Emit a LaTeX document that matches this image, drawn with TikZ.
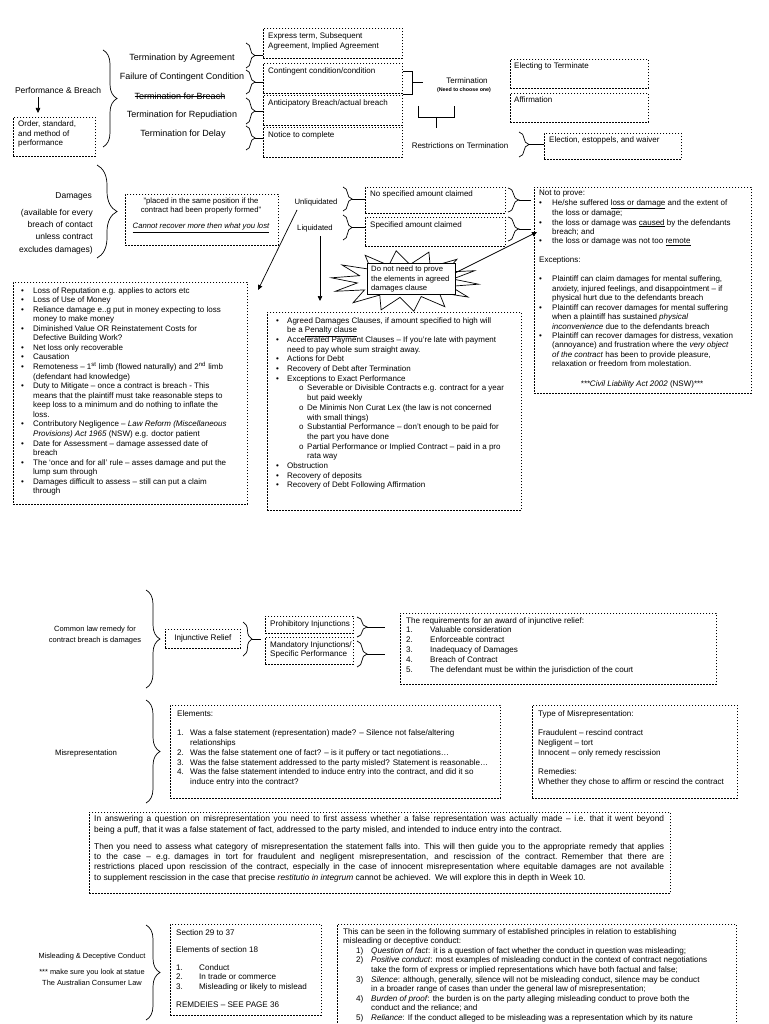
\documentclass[tikz,border=0pt]{standalone}
\usepackage{fontspec}
\setmainfont{Liberation Sans}
\usetikzlibrary{decorations.pathreplacing,arrows.meta}
\newcommand\fsz[2]{\fontsize{#1}{#2}\selectfont}
\newcommand\bb[1]{\makebox[#1][l]{\textbullet}}
\newcommand\hs[1]{\hspace*{#1}}
\newcommand\nm[2]{\makebox[#1][l]{#2}}
\newcommand\jl[1]{\hbox to 570pt{\spaceskip=0.278em plus 0.5em minus 0.06em #1}}
\newcommand\jn[1]{\hbox{\spaceskip=0.278em #1}}
\newsavebox\stbox
\newcommand\strk[1]{\sbox\stbox{#1}\rlap{\rule[0.3em]{\wd\stbox}{0.6pt}}\usebox\stbox}
\tikzset{
 dbox/.style={draw, dash pattern=on 1.8pt off 1.2pt, line width=0.7pt, inner sep=0pt},
 sbox/.style={draw, line width=0.7pt, fill=white, inner sep=0pt},
 tx/.style={inner sep=0pt, align=left, anchor=north west, font={\fsz{8}{9.6}}},
 lx/.style={inner sep=0pt, align=left, anchor=north west, font={\fsz{8.1}{9.8}}},
 lbl/.style={inner sep=0pt, align=center, font={\fsz{9}{11}}},
 brs/.style={decorate, decoration={brace, amplitude=#1pt}, line width=0.7pt},
 ln/.style={line width=0.7pt},
 arr/.style={line width=0.7pt, -{Triangle[length=5pt,width=4.5pt]}},
}
\newcommand\dbx[5]{\node[dbox,anchor=north west,minimum width={#4-#2},minimum height={#5-#3}] (#1) at (#2,#3) {};}
\newcommand\brc[5]{\draw[brs=#5] (#2,#3) -- (#2,#4); \coordinate (#1) at ({#2+#5},{(#3+#4)/2});}
\begin{document}
\begin{tikzpicture}[x=1pt,y=-1pt]
\fill[white] (0,0) rectangle (768,1024);
\useasboundingbox (0,0) rectangle (768,1024);

% ---------------- TOP: performance & breach
\node[inner sep=0pt, font={\fsz{8.5}{10}}] (pb) at (58,90) {Performance \& Breach};
\dbx{ord}{13}{117}{95}{156}
\node[tx, font={\fsz{8}{9.3}}] (ordt) at (18,121) {Order, standard,\\and method of\\performance};
\coordinate (pba) at (38,97);
\coordinate (pbb) at (38,113);
\draw[arr] (pba) -- (pbb);

\brc{bt}{103}{50}{147}{14}
\node[lbl] (ta) at (182,58) {Termination by Agreement};
\node[lbl] (tf) at (182,77) {Failure of Contingent Condition};
\node[lbl] (tb) at (180,96) {\strk{Termination for Breach}};
\node[lbl] (tr) at (182,115) {Termination for Repudiation};
\node[lbl] (td) at (183,134) {Termination for Delay};

\dbx{bx1}{263}{28}{402}{58}
\dbx{bx2}{263}{63}{402}{93}
\dbx{bx3}{263}{95}{402}{125}
\dbx{bx4}{263}{127}{402}{157}
\node[tx] (bx1t) at (268,33) {Express term, Subsequent\\Agreement, Implied Agreement};
\node[tx] (bx2t) at (268,68) {Contingent condition/condition};
\node[tx] (bx3t) at (268,100) {Anticipatory Breach/actual breach};
\node[tx] (bx4t) at (268,132) {Notice to complete};

\brc{b1}{246}{43}{68}{9}
\brc{b2}{246}{70}{94}{9}
\brc{b3}{246}{98}{124}{9}
\brc{b4}{246}{126}{150}{9}
\draw[ln] (b1) -- (b1 -| bx1.west);
\draw[ln] (b2) -- (b2 -| bx2.west);
\draw[ln] (b3) -- (b3 -| bx3.west);
\draw[ln] (b4) -- (b4 -| bx4.west);

\coordinate (k1) at (412,71);
\coordinate (k2) at (412,94);
\coordinate (k3) at (412,82);
\coordinate (k4) at (423,82);
\draw[ln] (k1 -| bx2.east) -- (k1) -- (k2) -- (k2 -| bx2.east);
\draw[ln] (k3) -- (k4);
\node[inner sep=0pt, font={\fsz{8}{9}}] (term) at (467,81) {Termination};
\node[inner sep=0pt, font={\fsz{5.3}{6}\bfseries}] (need) at (464,90) {(Need to choose one)};

\dbx{elt}{510}{59}{648}{88}
\dbx{aff}{510}{93}{648}{122}
\node[tx] (eltt) at (514,63) {Electing to Terminate};
\node[tx] (afft) at (514,97) {Affirmation};

\coordinate (u1) at (418,106);
\coordinate (u2) at (454,106);
\coordinate (u3) at (436,117);
\coordinate (u4) at (436,128);
\draw[ln] (u1) -- (u1 |- u3) -- (u2 |- u3) -- (u2);
\draw[ln] (u3) -- (u4);
\node[inner sep=0pt, font={\fsz{8}{9}}] (restr) at (460,146) {Restrictions on Termination};
\brc{br}{519}{132}{157}{10}
\dbx{ele}{544}{133}{681}{159}
\node[tx] (elet) at (549,137) {Election, estoppels, and waiver};
\draw[ln] (br) -- (br -| ele.west);

% ---------------- DAMAGES
\brc{bd}{97}{165}{258}{20}
\node[inner sep=0pt, anchor=east, font={\fsz{8.5}{10}}] (dam) at (92,196) {Damages};
\node[inner sep=0pt, anchor=north east, align=right, font={\fsz{8.5}{12.3}}] (damt) at (93,209) {(available for every\\breach of contact\\unless contract\\excludes damages)};

\dbx{qb}{125}{194}{278}{245}
\node[inner sep=0pt, align=center, font={\fsz{7.7}{8.6}}] (qbt) at (201,206) {"placed in the same position if the\\contract had been properly formed"};
\node[inner sep=0pt, font={\fsz{7.7}{8.6}\itshape}] (qbu) at (201,228) {\underline{Cannot recover more then what you lost}};

\node[inner sep=0pt, font={\fsz{7.7}{9}}] (unl) at (316,203) {Unliquidated};
\node[inner sep=0pt, font={\fsz{7.7}{9}}] (liq) at (315,229) {Liquidated};

\dbx{ns}{365}{187}{505}{213}
\dbx{sp}{365}{217}{505}{246}
\node[tx] (nst) at (370,191) {No specified amount claimed};
\node[tx] (spt) at (370,222) {Specified amount claimed};
\brc{d1}{343}{187}{211}{9}
\brc{d2}{343}{215}{240}{9}
\draw[ln] (d1) -- (d1 -| ns.west);
\draw[ln] (d2) -- (d2 -| sp.west);

\dbx{rb}{534}{187}{751}{393}
\brc{d3}{508}{188}{212}{11}
\brc{d4}{508}{217}{241}{11}
\coordinate (d3e) at (531,200);
\coordinate (d4e) at (531,229);
\draw[ln] (d3) -- (d3e);
\draw[ln] (d4) -- (d4e);
\node[tx, font={\fsz{8}{9.45}}] (rbt) at (539,190) {Not to prove:\\
\bb{13pt}He/she suffered \underline{loss or damage} and the extent of\\
\hs{13pt}the loss or damage;\\
\bb{13pt}the loss or damage was \underline{caused} by the defendants\\
\hs{13pt}breach; and\\
\bb{13pt}the loss or damage was not too \underline{remote}\\[9.45pt]
Exceptions:\\[9.45pt]
\bb{13pt}Plaintiff can claim damages for mental suffering,\\
\hs{13pt}anxiety, injured feelings, and disappointment – if\\
\hs{13pt}physical hurt due to the defendants breach\\
\bb{13pt}Plaintiff can recover damages for mental suffering\\
\hs{13pt}when a plaintiff has sustained \textit{physical}\\
\hs{13pt}\textit{inconvenience} due to the defendants breach\\
\bb{13pt}Plaintiff can recover damages for distress, vexation\\
\hs{13pt}(annoyance) and frustration where the \textit{very object}\\
\hs{13pt}\textit{of the contract} has been to provide pleasure,\\
\hs{13pt}relaxation or freedom from molestation.};
\node[inner sep=0pt, font={\fsz{8}{9.45}}] (cla) at (642,384) {\textit{***Civil Liability Act 2002} (NSW)***};

% starburst
\draw[ln, fill=white] plot[samples at={0,1,...,27}, variable=\k] ({405+(61+13*cos(\k*180))*cos(\k*360/28+6)},{281+(23.5+7*cos(\k*180))*sin(\k*360/28+6)}) -- cycle;
\node[sbox, anchor=north west, minimum width=88, minimum height=31] (stb) at (367,263) {};
\node[tx, font={\fsz{7.7}{9.3}}] (stbt) at (371,266) {Do not need to prove\\the elements in agreed\\damages clause};
\coordinate (sa) at (455,273);
\coordinate (sb) at (537,232);
\draw[arr] (sa) -- (sb);

% left box
\dbx{lb}{13}{282}{247}{504}
\node[tx, font={\fsz{8}{9.57}}] (lbt) at (21,287) {%
\bb{12pt}Loss of Reputation e.g. applies to actors etc\\
\bb{12pt}Loss of Use of Money\\
\bb{12pt}Reliance damage e..g put in money expecting to loss\\
\hs{12pt}money to make money\\
\bb{12pt}Diminished Value OR Reinstatement Costs for\\
\hs{12pt}Defective Building Work?\\
\bb{12pt}Net loss only recoverable\\
\bb{12pt}Causation\\
\bb{12pt}Remoteness – 1\textsuperscript{st} limb (flowed naturally) and 2\textsuperscript{nd} limb\\
\hs{12pt}(defendant had knowledge)\\
\bb{12pt}Duty to Mitigate – once a contract is breach - This\\
\hs{12pt}means that the plaintiff must take reasonable steps to\\
\hs{12pt}keep loss to a minimum and do nothing to inflate the\\
\hs{12pt}loss.\\
\bb{12pt}Contributory Negligence – \textit{Law Reform (Miscellaneous}\\
\hs{12pt}\textit{Provisions) Act 1965} (NSW) e.g. doctor patient\\
\bb{12pt}Date for Assessment – damage assessed date of\\
\hs{12pt}breach\\
\bb{12pt}The ‘once and for all’ rule – asses damage and put the\\
\hs{12pt}lump sum through\\
\bb{12pt}Damages difficult to assess – still can put a claim\\
\hs{12pt}through};

% middle box
\dbx{mb}{267}{312}{521}{510}
\node[tx, font={\fsz{8}{9.7}}] (mbt) at (276,317) {%
\bb{11pt}Agreed Damages Clauses, if amount specified to high will\\
\hs{11pt}be a \underline{Penalty clause}\\
\bb{11pt}Accelerated Payment Clauses – If you’re late with payment\\
\hs{11pt}need to pay whole sum straight away.\\
\bb{11pt}Actions for Debt\\
\bb{11pt}Recovery of Debt after Termination\\
\bb{11pt}Exceptions to Exact Performance\\
\hs{23pt}\nm{8pt}{o}Severable or Divisible Contracts e.g. contract for a year\\
\hs{31pt}but paid weekly\\
\hs{23pt}\nm{8pt}{o}De Minimis Non Curat Lex (the law is not concerned\\
\hs{31pt}with small things)\\
\hs{23pt}\nm{8pt}{o}Substantial Performance – don’t enough to be paid for\\
\hs{31pt}the part you have done\\
\hs{23pt}\nm{8pt}{o}Partial Performance or Implied Contract – paid in a pro\\
\hs{31pt}rata way\\
\bb{11pt}Obstruction\\
\bb{11pt}Recovery of deposits\\
\bb{11pt}Recovery of Debt Following Affirmation};

\coordinate (ua) at (297,210);
\coordinate (ub) at (258,290);
\draw[arr] (ua) -- (ub);
\coordinate (la) at (320,236);
\coordinate (lbb) at (320,301);
\draw[arr] (la) -- (lbb);

% ---------------- INJUNCTIVE
\brc{bi}{146}{590}{688}{14}
\node[inner sep=0pt, align=center, font={\fsz{7.5}{11}}] (cl) at (95,635.5) {Common law remedy for\\contract breach is damages};
\dbx{ij}{165}{629}{240}{648}
\node[inner sep=0pt, font={\fsz{8.1}{9}}] (ijt) at (ij.center) {Injunctive Relief};
\brc{bj}{243}{622}{656}{9}
\coordinate (bje) at (261,639);
\draw[ln] (bj) -- (bje);
\dbx{pr}{265}{616}{353}{633}
\dbx{md}{265}{637}{353}{664}
\node[lx] (prt) at (270,620) {Prohibitory Injunctions};
\node[lx] (mdt) at (270,641) {Mandatory Injunctions/\\Specific Performance};
\brc{bp}{357}{617}{637}{10}
\brc{bm}{357}{641}{667}{10}
\coordinate (bpe) at (385,627);
\coordinate (bme) at (385,654);
\draw[ln] (bp) -- (bpe);
\draw[ln] (bm) -- (bme);
\dbx{rq}{400}{613}{716}{684}
\node[lx] (rqt) at (406,617) {The requirements for an award of injunctive relief:\\
\nm{24pt}{1.}Valuable consideration\\
\nm{24pt}{2.}Enforceable contract\\
\nm{24pt}{3.}Inadequacy of Damages\\
\nm{24pt}{4.}Breach of Contract\\
\nm{24pt}{5.}The defendant must be within the jurisdiction of the court};

% ---------------- MISREPRESENTATION
\brc{bmr}{146}{700}{803}{14}
\node[inner sep=0pt, font={\fsz{7.8}{9}}] (mis) at (86,753) {Misrepresentation};
\dbx{el}{170}{705}{500}{798}
\node[lx] (elt) at (177,710) {Elements:\\[9.8pt]
\nm{13pt}{1.}Was a false statement (representation) made? – Silence not false/altering\\
\hs{13pt}relationships\\
\nm{13pt}{2.}Was the false statement one of fact? – is it puffery or tact negotiations…\\
\nm{13pt}{3.}Was the false statement addressed to the party misled? Statement is reasonable…\\
\nm{13pt}{4.}Was the false statement intended to induce entry into the contract, and did it so\\
\hs{13pt}induce entry into the contract?};
\dbx{ty}{532}{705}{737}{798}
\node[lx] (tyt) at (538,710) {Type of Misrepresentation:\\[9.8pt]
Fraudulent – rescind contract\\
Negligent – tort\\
Innocent – only remedy rescission\\[9.8pt]
Remedies:\\
Whether they chose to affirm or rescind the contract};

\dbx{pg}{89}{812}{670}{893}
\node[anchor=north west, inner sep=0pt, text width=570pt, font={\fsz{8.4}{10.3}}] (pgt) at (94,815.5) {%
\jl{In answering a question on misrepresentation you need to first assess whether a false representation was actually made – i.e. that it went beyond}
\jn{being a puff, that it was a false statement of fact, addressed to the party misled, and intended to induce entry into the contract.}
\vskip 7pt
\jl{Then you need to assess what category of misrepresentation the statement falls into. This will then guide you to the appropriate remedy that applies}
\jl{to the case – e.g. damages in tort for fraudulent and negligent misrepresentation, and rescission of the contract. Remember that there are}
\jl{restrictions placed upon rescission of the contract, especially in the case of innocent misrepresentation where equitable damages are not available}
\jn{to supplement rescission in the case that precise \textit{restitutio in integrum} cannot be achieved. We will explore this in depth in Week 10.}};

% ---------------- MISLEADING
\brc{bml}{146}{925}{1020}{14}
\node[inner sep=0pt, align=center, font={\fsz{7.4}{11}}] (mdc) at (92,957) {Misleading \& Deceptive Conduct};
\node[inner sep=0pt, align=center, font={\fsz{7.4}{11}}] (mdn) at (92,977.5) {*** make sure you look at statue\\The Australian Consumer Law};
\dbx{sc}{170}{924}{321}{1015}
\node[lx, font={\fsz{8.1}{9.6}}] (sct) at (176,929) {Section 29 to 37\\[8pt]
Elements of section 18\\[8pt]
\nm{23pt}{1.}Conduct\\
\nm{23pt}{2.}In trade or commerce\\
\nm{23pt}{3.}Misleading or likely to mislead\\[8pt]
REMDEIES – SEE PAGE 36};
\dbx{sm}{337}{924}{736}{1034}
\node[lx, font={\fsz{8.1}{9.6}}] (smt) at (343,928) {This can be seen in the following summary of established principles in relation to establishing\\
misleading or deceptive conduct:\\
\hs{13pt}\nm{15pt}{1)}\textit{Question of fact}: it is a question of fact whether the conduct in question was misleading;\\
\hs{13pt}\nm{15pt}{2)}\textit{Positive conduct}: most examples of misleading conduct in the context of contract negotiations\\
\hs{28pt}take the form of express or implied representations which have both factual and false;\\
\hs{13pt}\nm{15pt}{3)}\textit{Silence}: although, generally, silence will not be misleading conduct, silence may be conduct\\
\hs{28pt}in a broader range of cases than under the general law of misrepresentation;\\
\hs{13pt}\nm{15pt}{4)}\textit{Burden of proof}: the burden is on the party alleging misleading conduct to prove both the\\
\hs{28pt}conduct and the reliance; and\\
\hs{13pt}\nm{15pt}{5)}\textit{Reliance}: If the conduct alleged to be misleading was a representation which by its nature};
\end{tikzpicture}
\end{document}
